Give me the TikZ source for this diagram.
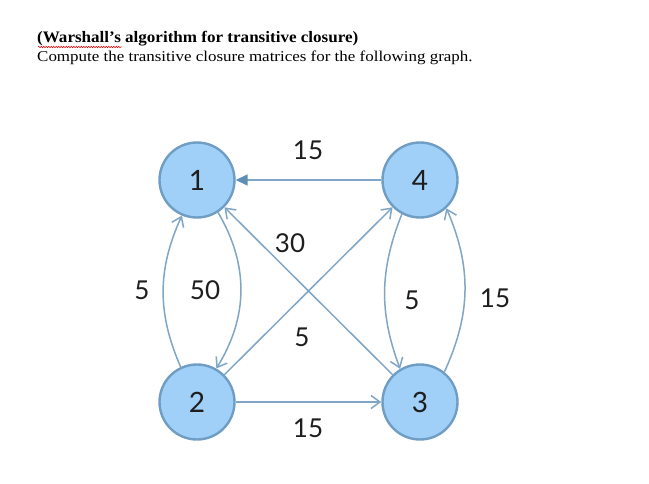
\documentclass[tikz,border=0pt]{standalone}
\usepackage{fontspec}
\setmainfont{Liberation Serif}
\newfontfamily\lato{Lato}
\usetikzlibrary{arrows.meta,decorations.pathmorphing}
\definecolor{edgec}{HTML}{7FA6C6}
\definecolor{nodeb}{HTML}{6F9DC4}
\definecolor{nodef}{HTML}{A0CFF7}
\definecolor{headc}{HTML}{5E8DB5}
\definecolor{txtc}{HTML}{1E1E1E}
\tikzset{
  vert/.style={circle,draw=nodeb,line width=2.4pt,fill=nodef,minimum size=75pt,inner sep=0pt,font=\lato\fontsize{28}{30}\selectfont,text=txtc},
  edge/.style={draw=edgec,line width=1.5pt,-{Straight Barb[length=9pt,width=13pt,line width=1.5pt]}},
  fedge/.style={draw=edgec,line width=1.5pt,-{Triangle[length=12pt,width=11pt,color=headc]}},
  wlabel/.style={font=\lato\fontsize{26}{28}\selectfont,text=txtc,inner sep=0pt},
}
\begin{document}
\begin{tikzpicture}[x=1pt,y=1pt]
\useasboundingbox (0,0) rectangle (649,-484);
\fill[white] (0,0) rectangle (649,-484);
% header
\node[anchor=base west,inner sep=0pt,font=\bfseries\fontsize{16}{19}\selectfont] (title) at (37,-43) {\scalebox{1.066}[1]{(Warshall’s algorithm for transitive closure)}};
\node[anchor=base west,inner sep=0pt,font=\fontsize{15}{19}\selectfont] (sub) at (37,-62) {\scalebox{1.13}[1]{Compute the transitive closure matrices for the following graph.}};
\coordinate (wa) at (38,-47);
\coordinate (wb) at (122,-47);
\draw[red,line width=0.5pt,decorate,decoration={snake,amplitude=0.8pt,segment length=2.5pt}] (wa) -- (wb);
% vertices
\node[vert] (n1) at (197,-180) {1};
\node[vert] (n4) at (420,-180) {4};
\node[vert] (n2) at (197,-402) {2};
\node[vert] (n3) at (420,-402) {3};
% edges
\draw[fedge] (n4.west) -- (n1.east);
\draw[edge] (n2.east) -- (n3.west);
\draw[edge] (n2.115) to[bend left=24] (n1.247);
\draw[edge] (n1.-57) to[bend left=31] (n2.60);
\draw[edge] (n3) -- (n1);
\draw[edge] (n2) -- (n4);
\draw[edge] (n4.-118) to[bend right=21] (n3.121);
\draw[edge] (n3.51) to[bend right=24] (n4.-47);
% labels
\node[wlabel] (l41) at (308,-150) {15};
\node[wlabel] (l31) at (290,-243) {30};
\node[wlabel] (l21) at (142,-290) {5};
\node[wlabel] (l12) at (205,-290) {50};
\node[wlabel] (l24) at (302,-337) {5};
\node[wlabel] (l43) at (412,-300) {5};
\node[wlabel] (l34) at (495,-298) {15};
\node[wlabel] (l23) at (308,-428) {15};
\end{tikzpicture}
\end{document}
